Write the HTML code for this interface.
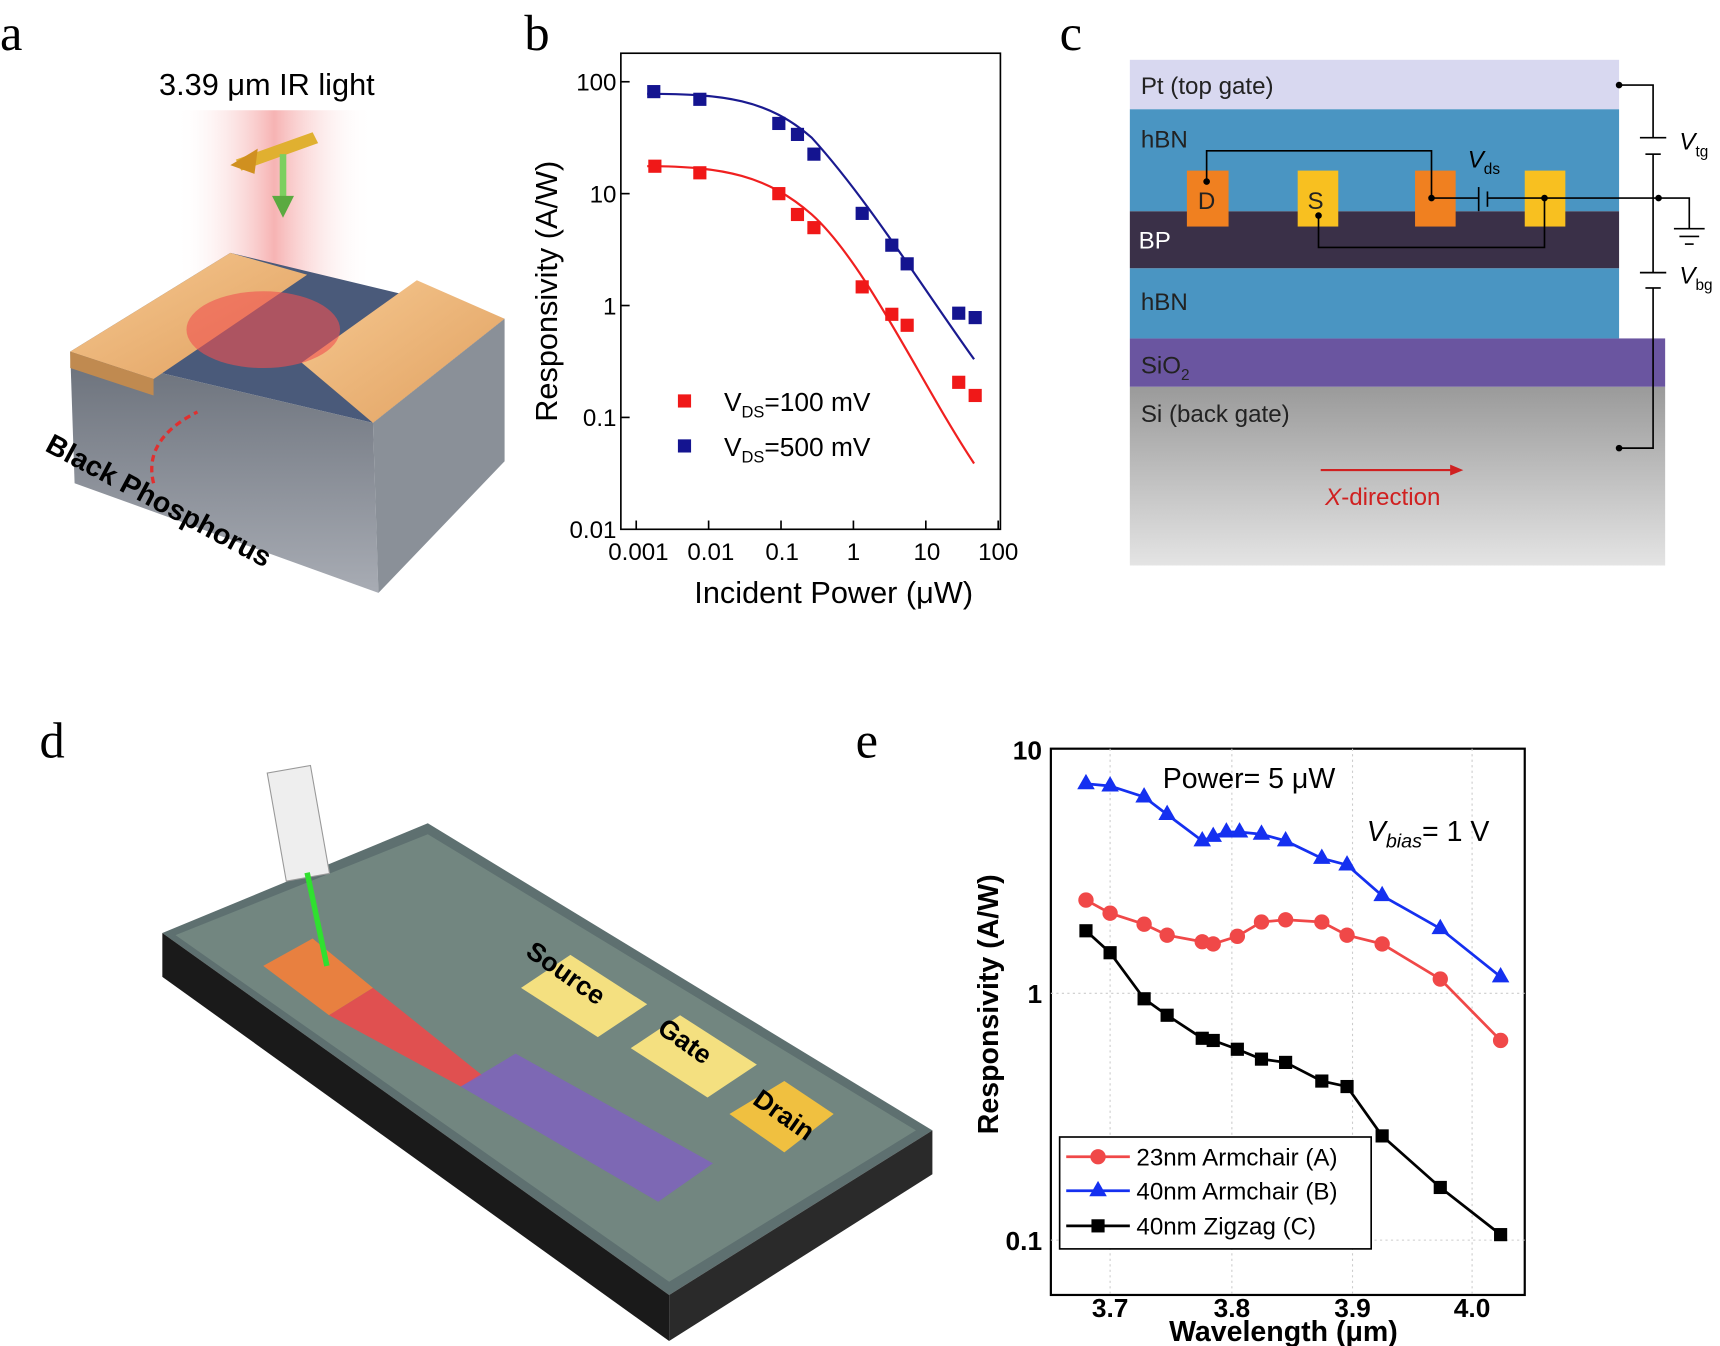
<!DOCTYPE html>
<html><head><meta charset="utf-8"><style>
html,body{margin:0;padding:0;background:#fff;}
svg{display:block;}
text{font-family:"Liberation Sans",sans-serif;}
text.serif{font-family:"Liberation Serif",serif;}
</style></head><body>
<svg width="1720" height="1346" viewBox="0 0 1568 1226" xmlns="http://www.w3.org/2000/svg">
<defs>
<linearGradient id="beam" x1="0" x2="1"><stop offset="0" stop-color="#fff" stop-opacity="0"/><stop offset="0.5" stop-color="#f4a0a0" stop-opacity="0.8"/><stop offset="1" stop-color="#fff" stop-opacity="0"/></linearGradient>
<linearGradient id="si" x1="0" y1="0" x2="0" y2="1"><stop offset="0" stop-color="#9a9a9a"/><stop offset="1" stop-color="#e4e4e4"/></linearGradient>
<linearGradient id="gold" x1="0" y1="0" x2="1" y2="1"><stop offset="0" stop-color="#f6c890"/><stop offset="1" stop-color="#e0a060"/></linearGradient>
<linearGradient id="side" x1="0" y1="0" x2="0" y2="1"><stop offset="0" stop-color="#6a707a"/><stop offset="1" stop-color="#a8acb4"/></linearGradient>
</defs>
<rect width="1568" height="1226" fill="#fff"/>
<!-- Panel letters -->
<text class="serif" x="0" y="45" font-size="46">a</text>
<text class="serif" x="478" y="45" font-size="46">b</text>
<text class="serif" x="966" y="45" font-size="46">c</text>
<text class="serif" x="36" y="690" font-size="46">d</text>
<text class="serif" x="780" y="690" font-size="46">e</text>

<!-- Panel a -->
<polygon points="160,100 340,100 330,330 170,330" fill="url(#beam)"/>
<text x="145" y="86" font-size="28">3.39 μm IR light</text>
<polygon points="215,145 285,120 290,130 220,155" fill="#e0b030"/>
<polygon points="210,150 235,135 232,158" fill="#d09020"/>
<line x1="258" y1="140" x2="258" y2="185" stroke="#7ccf60" stroke-width="6"/>
<polygon points="248,178 268,178 258,198" fill="#5aaa40"/>
<polygon points="64,320 210,230 460,290 340,385" fill="#4a5a7a"/>
<polygon points="64,320 340,385 345,540 68,440" fill="url(#side)"/>
<polygon points="340,385 460,290 460,420 345,540" fill="#8a9098"/>
<polygon points="64,320 210,230 280,250 140,345" fill="url(#gold)"/>
<polygon points="64,320 140,345 140,360 64,335" fill="#c08a50"/>
<polygon points="275,330 380,255 460,290 340,385" fill="url(#gold)"/>
<ellipse cx="240" cy="300" rx="70" ry="35" fill="#f05050" opacity="0.6"/>
<text x="40" y="410" font-size="26" font-weight="bold" transform="rotate(28 40 410)">Black Phosphorus</text>
<path d="M140,440 Q130,400 180,375" fill="none" stroke="#e03030" stroke-width="3" stroke-dasharray="6,4"/>

<!-- Panel b -->
<rect x="566" y="48" width="346" height="434" fill="none" stroke="#000" stroke-width="1.5"/>
<g stroke="#000" stroke-width="1.5">
<line x1="566" y1="74" x2="574" y2="74"/><line x1="566" y1="176" x2="574" y2="176"/><line x1="566" y1="278" x2="574" y2="278"/><line x1="566" y1="380" x2="574" y2="380"/>
<line x1="580" y1="482" x2="580" y2="474"/><line x1="646" y1="482" x2="646" y2="474"/><line x1="712" y1="482" x2="712" y2="474"/><line x1="778" y1="482" x2="778" y2="474"/><line x1="844" y1="482" x2="844" y2="474"/><line x1="910" y1="482" x2="910" y2="474"/>
</g>
<g font-size="22" text-anchor="end">
<text x="562" y="82">100</text><text x="562" y="184">10</text><text x="562" y="286">1</text><text x="562" y="388">0.1</text><text x="562" y="490">0.01</text>
</g>
<g font-size="22" text-anchor="middle">
<text x="582" y="510">0.001</text><text x="648" y="510">0.01</text><text x="713" y="510">0.1</text><text x="778" y="510">1</text><text x="845" y="510">10</text><text x="910" y="510">100</text>
</g>
<text x="760" y="549" font-size="28" text-anchor="middle">Incident Power (μW)</text>
<text transform="translate(508 265) rotate(-90)" font-size="28" text-anchor="middle">Responsivity (A/W)</text>
<path d="M590,151 C660,151 700,160 740,195 C790,240 840,350 888,422" fill="none" stroke="#f02020" stroke-width="2"/>
<path d="M590,85 C660,85 700,90 740,125 C790,180 840,260 888,327" fill="none" stroke="#1a1a90" stroke-width="2"/>
<g fill="#f01818">
<rect x="591" y="145" width="12" height="12"/><rect x="632" y="151" width="12" height="12"/><rect x="704" y="170" width="12" height="12"/><rect x="721" y="189" width="12" height="12"/><rect x="736" y="201" width="12" height="12"/><rect x="780" y="255" width="12" height="12"/><rect x="807" y="280" width="12" height="12"/><rect x="821" y="290" width="12" height="12"/><rect x="868" y="342" width="12" height="12"/><rect x="883" y="354" width="12" height="12"/>
</g>
<g fill="#141490">
<rect x="590" y="77" width="12" height="12"/><rect x="632" y="84" width="12" height="12"/><rect x="704" y="106" width="12" height="12"/><rect x="721" y="116" width="12" height="12"/><rect x="736" y="134" width="12" height="12"/><rect x="780" y="188" width="12" height="12"/><rect x="807" y="217" width="12" height="12"/><rect x="821" y="234" width="12" height="12"/><rect x="868" y="279" width="12" height="12"/><rect x="883" y="283" width="12" height="12"/>
</g>
<rect x="618" y="359" width="12" height="12" fill="#f01818"/>
<text x="660" y="374" font-size="24">V<tspan font-size="15" dy="6">DS</tspan><tspan dy="-6">=100 mV</tspan></text>
<rect x="618" y="400" width="12" height="12" fill="#141490"/>
<text x="660" y="415" font-size="24">V<tspan font-size="15" dy="6">DS</tspan><tspan dy="-6">=500 mV</tspan></text>

<!-- Panel c -->
<rect x="1030" y="352" width="488" height="163" fill="url(#si)"/>
<rect x="1030" y="308" width="488" height="44" fill="#6a55a0"/>
<rect x="1030" y="244" width="446" height="64" fill="#4a95c2"/>
<rect x="1030" y="192" width="446" height="52" fill="#3a3048"/>
<rect x="1030" y="99" width="446" height="93" fill="#4a95c2"/>
<rect x="1030" y="54" width="446" height="45" fill="#d8d8f0"/>
<rect x="1082" y="155" width="38" height="51" fill="#f08020"/>
<rect x="1183" y="155" width="37" height="51" fill="#f8c020"/>
<rect x="1290" y="155" width="37" height="51" fill="#f08020"/>
<rect x="1390" y="155" width="37" height="51" fill="#f8c020"/>
<g font-size="22" fill="#222">
<text x="1040" y="85">Pt (top gate)</text><text x="1040" y="134">hBN</text><text x="1038" y="226" fill="#fff">BP</text><text x="1040" y="282">hBN</text><text x="1040" y="340">SiO<tspan font-size="14" dy="6">2</tspan></text><text x="1040" y="384">Si (back gate)</text>
<text x="1092" y="190">D</text><text x="1192" y="190">S</text>
</g>
<g fill="none" stroke="#000" stroke-width="1.5">
<path d="M1100,165 V137 H1305 V180"/>
<path d="M1202,196 V225 H1408 V180"/>
<path d="M1305,180 H1348 M1356,180 H1512"/>
<line x1="1348" y1="170" x2="1348" y2="192"/><line x1="1356" y1="174" x2="1356" y2="188"/>
<path d="M1476,77 H1507 V125 M1507,140 V248 M1507,262 V408 H1476"/>
<line x1="1495" y1="125" x2="1519" y2="125"/><line x1="1500" y1="140" x2="1514" y2="140"/>
<line x1="1495" y1="248" x2="1519" y2="248"/><line x1="1500" y1="262" x2="1514" y2="262"/>
<path d="M1512,180 H1540 V208"/><line x1="1526" y1="208" x2="1554" y2="208"/><line x1="1531" y1="215" x2="1549" y2="215"/><line x1="1536" y1="222" x2="1544" y2="222"/>
</g>
<g fill="#000"><circle cx="1100" cy="165" r="3"/><circle cx="1202" cy="196" r="3"/><circle cx="1305" cy="180" r="3"/><circle cx="1408" cy="180" r="3"/><circle cx="1512" cy="180" r="3"/><circle cx="1476" cy="77" r="3"/><circle cx="1476" cy="408" r="3"/></g>
<text x="1338" y="152" font-size="22" font-style="italic">V<tspan font-size="14" dy="6" font-style="normal">ds</tspan></text>
<text x="1531" y="136" font-size="22" font-style="italic">V<tspan font-size="14" dy="6" font-style="normal">tg</tspan></text>
<text x="1531" y="258" font-size="22" font-style="italic">V<tspan font-size="14" dy="6" font-style="normal">bg</tspan></text>
<line x1="1204" y1="428" x2="1325" y2="428" stroke="#d02020" stroke-width="2"/><polygon points="1334,428 1322,423 1322,433" fill="#d02020"/>
<text x="1208" y="460" font-size="22" fill="#d02020"><tspan font-style="italic">X</tspan>-direction</text>

<!-- Panel d -->
<polygon points="148,850 390,750 850,1030 610,1180" fill="#5e7070"/>
<polygon points="148,850 610,1180 610,1222 148,890" fill="#1a1a1a"/>
<polygon points="610,1180 850,1030 850,1070 610,1222" fill="#2a2a2a"/>
<polygon points="160,852 390,760 835,1030 610,1168" fill="#7a9088" opacity="0.7"/>
<polygon points="240,880 285,855 340,900 300,925" fill="#e88040"/>
<polygon points="300,925 340,900 440,980 420,990" fill="#e05050"/>
<polygon points="420,990 470,960 650,1060 600,1095" fill="#8060c0" opacity="0.8"/>
<polygon points="475,900 520,870 590,915 545,945" fill="#f4e080"/>
<polygon points="575,955 620,925 690,970 645,1000" fill="#f4e080"/>
<polygon points="665,1015 715,985 760,1015 715,1050" fill="#f0c040"/>
<rect x="252" y="700" width="40" height="100" fill="#eee" stroke="#999" transform="rotate(-10 272 750)"/>
<line x1="280" y1="795" x2="298" y2="880" stroke="#30e030" stroke-width="5"/>
<text x="478" y="870" font-size="24" font-weight="bold" transform="rotate(35 478 870)">Source</text>
<text x="598" y="940" font-size="24" font-weight="bold" transform="rotate(35 598 940)">Gate</text>
<text x="685" y="1005" font-size="24" font-weight="bold" transform="rotate(35 685 1005)">Drain</text>

<!-- Panel e -->
<rect x="958" y="682" width="432" height="498" fill="none" stroke="#000" stroke-width="2"/>
<g stroke="#ccc" stroke-dasharray="2,3" stroke-width="1">
<line x1="1012" y1="682" x2="1012" y2="1180"/><line x1="1123" y1="682" x2="1123" y2="1180"/><line x1="1233" y1="682" x2="1233" y2="1180"/><line x1="1342" y1="682" x2="1342" y2="1180"/>
<line x1="958" y1="905" x2="1390" y2="905"/><line x1="958" y1="1130" x2="1390" y2="1130"/>
</g>
<g font-size="24" font-weight="bold" text-anchor="end">
<text x="950" y="692">10</text><text x="950" y="914">1</text><text x="950" y="1139">0.1</text>
</g>
<g font-size="24" font-weight="bold" text-anchor="middle">
<text x="1012" y="1200">3.7</text><text x="1123" y="1200">3.8</text><text x="1233" y="1200">3.9</text><text x="1342" y="1200">4.0</text>
</g>
<text x="1170" y="1222" font-size="26" font-weight="bold" text-anchor="middle">Wavelength (μm)</text>
<text transform="translate(910 915) rotate(-90)" font-size="26" font-weight="bold" text-anchor="middle">Responsivity (A/W)</text>
<text x="1060" y="718" font-size="26">Power= 5 μW</text>
<text x="1246" y="766" font-size="26"><tspan font-style="italic">V</tspan><tspan font-size="18" dy="6" font-style="italic">bias</tspan><tspan dy="-6">= 1 V</tspan></text>
<polyline fill="none" stroke="#1530f0" stroke-width="2.5" points="990,714 1012,716 1043,726 1064,742 1096,766 1106,762 1118,758 1130,758 1150,760 1172,766 1205,782 1228,788 1260,816 1313,846 1368,890"/>
<g fill="#1530f0">
<polygon points="990,705 998,719 982,719"/><polygon points="1012,707 1020,721 1004,721"/><polygon points="1043,717 1051,731 1035,731"/><polygon points="1064,733 1072,747 1056,747"/><polygon points="1096,757 1104,771 1088,771"/><polygon points="1106,753 1114,767 1098,767"/><polygon points="1118,749 1126,763 1110,763"/><polygon points="1130,749 1138,763 1122,763"/><polygon points="1150,751 1158,765 1142,765"/><polygon points="1172,757 1180,771 1164,771"/><polygon points="1205,773 1213,787 1197,787"/><polygon points="1228,779 1236,793 1220,793"/><polygon points="1260,807 1268,821 1252,821"/><polygon points="1313,837 1321,851 1305,851"/><polygon points="1368,881 1376,895 1360,895"/>
</g>
<polyline fill="none" stroke="#f04848" stroke-width="2.5" points="990,820 1012,832 1043,842 1064,852 1096,858 1106,860 1128,853 1150,840 1172,838 1205,840 1228,852 1260,860 1313,892 1368,948"/>
<g fill="#f04848">
<circle cx="990" cy="820" r="7"/><circle cx="1012" cy="832" r="7"/><circle cx="1043" cy="842" r="7"/><circle cx="1064" cy="852" r="7"/><circle cx="1096" cy="858" r="7"/><circle cx="1106" cy="860" r="7"/><circle cx="1128" cy="853" r="7"/><circle cx="1150" cy="840" r="7"/><circle cx="1172" cy="838" r="7"/><circle cx="1205" cy="840" r="7"/><circle cx="1228" cy="852" r="7"/><circle cx="1260" cy="860" r="7"/><circle cx="1313" cy="892" r="7"/><circle cx="1368" cy="948" r="7"/>
</g>
<polyline fill="none" stroke="#000" stroke-width="2.5" points="990,848 1012,868 1043,910 1064,925 1096,946 1106,948 1128,956 1150,965 1172,968 1205,985 1228,990 1260,1035 1313,1082 1368,1125"/>
<g fill="#000">
<rect x="984" y="842" width="12" height="12"/><rect x="1006" y="862" width="12" height="12"/><rect x="1037" y="904" width="12" height="12"/><rect x="1058" y="919" width="12" height="12"/><rect x="1090" y="940" width="12" height="12"/><rect x="1100" y="942" width="12" height="12"/><rect x="1122" y="950" width="12" height="12"/><rect x="1144" y="959" width="12" height="12"/><rect x="1166" y="962" width="12" height="12"/><rect x="1199" y="979" width="12" height="12"/><rect x="1222" y="984" width="12" height="12"/><rect x="1254" y="1029" width="12" height="12"/><rect x="1307" y="1076" width="12" height="12"/><rect x="1362" y="1119" width="12" height="12"/>
</g>
<rect x="966" y="1036" width="284" height="102" fill="#fff" stroke="#000" stroke-width="1.5"/>
<line x1="972" y1="1054" x2="1030" y2="1054" stroke="#f04848" stroke-width="2.5"/><circle cx="1001" cy="1054" r="7" fill="#f04848"/>
<line x1="972" y1="1085" x2="1030" y2="1085" stroke="#1530f0" stroke-width="2.5"/><polygon points="1001,1076 1009,1090 993,1090" fill="#1530f0"/>
<line x1="972" y1="1117" x2="1030" y2="1117" stroke="#000" stroke-width="2.5"/><rect x="995" y="1111" width="12" height="12"/>
<g font-size="22"><text x="1036" y="1062">23nm Armchair (A)</text><text x="1036" y="1093">40nm Armchair (B)</text><text x="1036" y="1125">40nm Zigzag (C)</text></g>
</svg>
</body></html>
